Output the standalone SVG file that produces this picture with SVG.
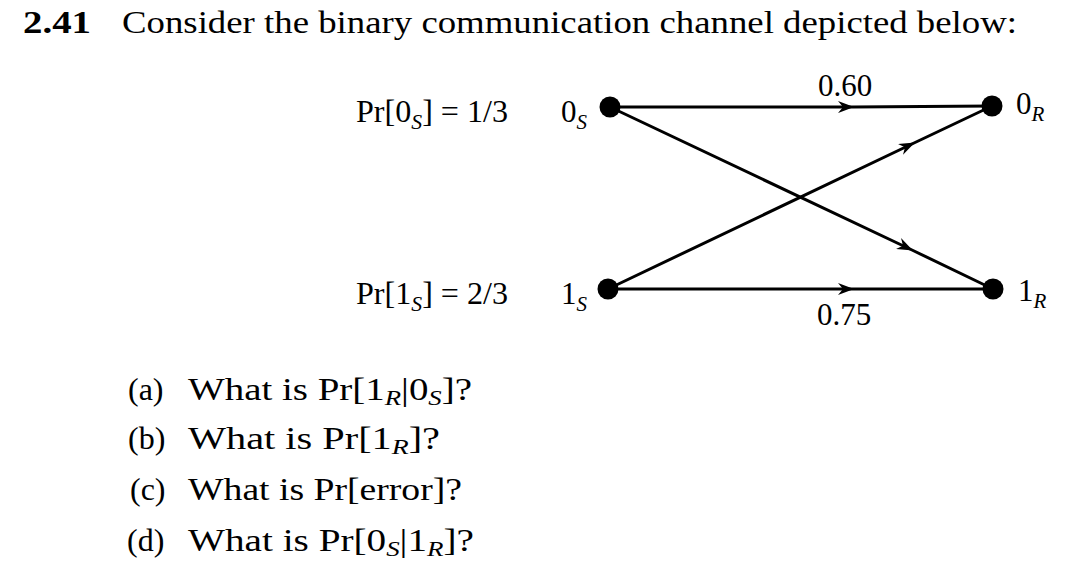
<svg xmlns="http://www.w3.org/2000/svg" width="1075" height="579" viewBox="0 0 1075 579">
<style>
text{font-family:"Liberation Serif","Times New Roman",serif;fill:#000}
.d{font-size:31px}
.q{font-size:32px}
.sub{font-size:21px;font-style:italic}
.qs{font-size:22px;font-style:italic}
.edge{stroke:#000;stroke-width:3;fill:none;marker-mid:url(#arr)}
.dot{fill:#000}
</style>
<defs>
<marker id="arr" viewBox="0 0 16 12" refX="15" refY="6" markerWidth="16" markerHeight="12" markerUnits="userSpaceOnUse" orient="auto">
<path d="M0,0 L16,6 L0,12 L5,6 Z" fill="#000"/>
</marker>
</defs>
<rect width="1075" height="579" fill="#fff"/>
<text x="23" y="33" font-family="Liberation Serif, serif" font-size="32" font-weight="bold" textLength="68" lengthAdjust="spacingAndGlyphs">2.41</text>
<text x="122" y="33" font-family="Liberation Serif, serif" font-size="32" textLength="895" lengthAdjust="spacingAndGlyphs">Consider the binary communication channel depicted below:</text>

<g id="connectors">
<path class="edge" d="M610,107 L853,107 L992,106"/>
<path class="edge" d="M608,289 L853,289 L993,289"/>
<path class="edge" d="M608,289 L914,143 L992,106"/>
<path class="edge" d="M610,107 L912,250 L993,289"/>
</g>

<g id="node-0S">
<circle class="dot" cx="610" cy="107" r="10.5"/>
<text class="d" x="561" y="122" font-family="Liberation Serif, serif">0<tspan class="sub" dy="7">S</tspan></text>
</g>
<g id="node-1S">
<circle class="dot" cx="608" cy="289" r="10.5"/>
<text class="d" x="561" y="304" font-family="Liberation Serif, serif">1<tspan class="sub" dy="7">S</tspan></text>
</g>
<g id="node-0R">
<circle class="dot" cx="992" cy="106" r="10.5"/>
<text class="d" x="1016" y="114" font-family="Liberation Serif, serif">0<tspan class="sub" dy="7">R</tspan></text>
</g>
<g id="node-1R">
<circle class="dot" cx="993" cy="289" r="10.5"/>
<text class="d" x="1018" y="301" font-family="Liberation Serif, serif">1<tspan class="sub" dy="7">R</tspan></text>
</g>

<text class="d" x="845" y="96" text-anchor="middle" font-family="Liberation Serif, serif">0.60</text>
<text class="d" x="844" y="325" text-anchor="middle" font-family="Liberation Serif, serif">0.75</text>
<text class="d" x="356" y="122" font-family="Liberation Serif, serif" textLength="152" lengthAdjust="spacingAndGlyphs">Pr[0<tspan class="sub" dy="7">S</tspan><tspan dy="-7">] = 1/3</tspan></text>
<text class="d" x="356" y="304" font-family="Liberation Serif, serif" textLength="152" lengthAdjust="spacingAndGlyphs">Pr[1<tspan class="sub" dy="7">S</tspan><tspan dy="-7">] = 2/3</tspan></text>

<text class="q" x="128" y="400">(a)</text>
<text class="q" x="188" y="400" textLength="284" lengthAdjust="spacingAndGlyphs">What is Pr[1<tspan class="qs" dy="5">R</tspan><tspan dy="-5">|0</tspan><tspan class="qs" dy="5">S</tspan><tspan dy="-5">]?</tspan></text>
<text class="q" x="128" y="449">(b)</text>
<text class="q" x="188" y="449" textLength="252" lengthAdjust="spacingAndGlyphs">What is Pr[1<tspan class="qs" dy="5">R</tspan><tspan dy="-5">]?</tspan></text>
<text class="q" x="130" y="500">(c)</text>
<text class="q" x="188" y="500" textLength="274" lengthAdjust="spacingAndGlyphs">What is Pr[error]?</text>
<text class="q" x="127" y="551">(d)</text>
<text class="q" x="188" y="551" textLength="286" lengthAdjust="spacingAndGlyphs">What is Pr[0<tspan class="qs" dy="5">S</tspan><tspan dy="-5">|1</tspan><tspan class="qs" dy="5">R</tspan><tspan dy="-5">]?</tspan></text>
</svg>
